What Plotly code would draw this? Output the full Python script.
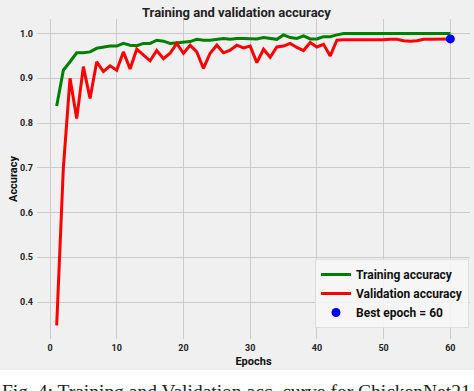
import plotly.graph_objects as go

epochs = list(range(1, 61))

train_acc = [0.838, 0.918, 0.937, 0.957, 0.957, 0.959, 0.967, 0.970, 0.972, 0.972,
             0.978, 0.974, 0.973, 0.978, 0.978, 0.985, 0.983, 0.978, 0.979, 0.980,
             0.982, 0.987, 0.985, 0.985, 0.987, 0.989, 0.987, 0.989, 0.989, 0.989,
             0.988, 0.991, 0.989, 0.987, 0.997, 0.991, 0.989, 0.995, 0.988, 0.988,
             0.993, 0.993, 0.997, 1.000, 1.000, 1.000, 1.000, 1.000, 1.000, 1.000,
             1.000, 1.000, 1.000, 1.000, 1.000, 1.000, 1.000, 1.000, 1.000, 1.000]

val_acc = [0.348, 0.700, 0.900, 0.810, 0.926, 0.855, 0.937, 0.915, 0.928, 0.918,
           0.959, 0.921, 0.965, 0.952, 0.939, 0.962, 0.944, 0.956, 0.978, 0.956,
           0.974, 0.959, 0.922, 0.956, 0.974, 0.957, 0.963, 0.974, 0.968, 0.972,
           0.935, 0.965, 0.947, 0.970, 0.972, 0.978, 0.969, 0.962, 0.980, 0.970,
           0.976, 0.950, 0.985, 0.986, 0.986, 0.985, 0.985, 0.986, 0.986, 0.986,
           0.987, 0.987, 0.984, 0.983, 0.984, 0.987, 0.987, 0.987, 0.988, 0.988]

best_epoch = 60
best_val = 0.988

x_ticks = [0, 10, 20, 30, 40, 50, 60]
y_ticks = [0.4, 0.5, 0.6, 0.7, 0.8, 0.9, 1.0]

W, H = 474, 391
L, R, T, B = 37, 4, 19, 52
ph = H - T - B
pw = W - L - R

def py(ypx):
    return (H - B - ypx) / ph

def px(xpx):
    return (xpx - L) / pw

font = "Roboto, Arial, sans-serif"

fig = go.Figure()
fig.add_trace(go.Scatter(x=epochs, y=train_acc, mode="lines", name="<b>Training accuracy</b>",
                         line=dict(color="green", width=3)))
fig.add_trace(go.Scatter(x=epochs, y=val_acc, mode="lines", name="<b>Validation accuracy</b>",
                         line=dict(color="red", width=3)))
fig.add_trace(go.Scatter(x=[best_epoch], y=[best_val], mode="markers",
                         name="<b>Best epoch = %d</b>" % best_epoch,
                         marker=dict(color="blue", size=9)))

fig.add_shape(type="rect", xref="paper", yref="paper", x0=px(-5), x1=px(W + 5),
              y0=py(H + 5), y1=py(370), fillcolor="white", line=dict(width=0), layer="below")
fig.add_annotation(text="Fig. 4: Training and Validation acc. curve for ChickenNet21",
                   xref="paper", yref="paper", x=px(0), y=py(379), xanchor="left", yanchor="top",
                   showarrow=False, font=dict(family="Liberation Serif, Times New Roman, serif",
                                              size=19.5, color="#222"))

fig.update_layout(
    width=W, height=H,
    margin=dict(l=L, r=R, t=T, b=B, autoexpand=False),
    paper_bgcolor="#f0f0f0", plot_bgcolor="#f0f0f0",
    title=dict(text="<b>Training and validation accuracy</b>", x=px(253), xanchor="center",
               y=1 - 12 / H, yanchor="middle", font=dict(family=font, size=13, color="#222")),
    font=dict(family=font, color="#222"),
    showlegend=True,
    legend=dict(x=px(469), y=py(328), xanchor="right", yanchor="bottom",
                bgcolor="rgba(246,246,246,0.9)", bordercolor="#dedede", borderwidth=1,
                font=dict(family=font, size=12, color="#111"), tracegroupgap=0,
                itemwidth=30),
    xaxis=dict(range=[-1.95, 62.95], tickvals=x_ticks, ticktext=["<b>%d</b>" % v for v in x_ticks],
               showgrid=True, gridcolor="#cbcbcb", gridwidth=1, zeroline=False, showline=False,
               ticks="", ticklen=0, ticklabelstandoff=2, tickfont=dict(size=9, color="#222"),
               automargin=False,
               title=dict(text="<b>Epochs</b>", font=dict(size=11, color="#111"), standoff=5)),
    yaxis=dict(range=[0.3175, 1.0325], tickvals=y_ticks, ticktext=["<b>%.1f</b>" % v for v in y_ticks],
               showgrid=True, gridcolor="#cbcbcb", gridwidth=1, zeroline=False, showline=False,
               ticks="", ticklen=0, ticklabelstandoff=3, tickfont=dict(size=9, color="#222"),
               automargin=False,
               title=dict(text="<b>Accuracy</b>", font=dict(size=11, color="#111"), standoff=0)),
)

fig.write_html("out.html", config={"displayModeBar": False},
               post_script="document.body.style.margin='0';document.body.style.padding='0';document.body.style.overflow='hidden';")
